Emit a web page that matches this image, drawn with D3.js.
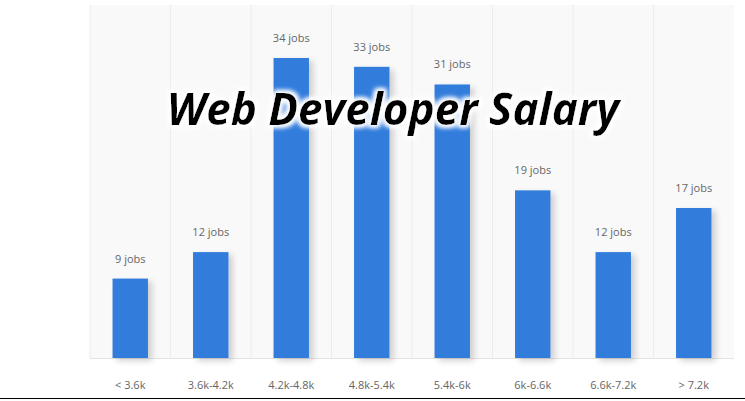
<!DOCTYPE html>
<html><head><meta charset="utf-8">
<script src="https://cdn.jsdelivr.net/npm/d3@7"></script>
<style>body{margin:0;background:#fff}svg{display:block}</style>
</head><body><div id="plot"></div>
<script>
// salary ranges and job counts
var categories = ['< 3.6k','3.6k-4.2k','4.2k-4.8k','4.8k-5.4k','5.4k-6k','6k-6.6k','6.6k-7.2k','> 7.2k'];
var jobs = [9,12,34,33,31,19,12,17];

var W = 745, H = 401;
var margin = {t:5,r:11,b:43,l:90};
var width = W-margin.l-margin.r, height = H-margin.t-margin.b;

var svg = d3.select('#plot').append('svg').attr('width',W).attr('height',H);
var defs = svg.append('defs');
var sh = defs.append('filter').attr('id','sh').attr('x','-20%').attr('y','-5%').attr('width','150%').attr('height','115%');
sh.append('feGaussianBlur').attr('in','SourceAlpha').attr('stdDeviation',3);
sh.append('feOffset').attr('dx',4).attr('dy',3).attr('result','b');
sh.append('feComponentTransfer').append('feFuncA').attr('type','linear').attr('slope',0.18);
var m = sh.append('feMerge'); m.append('feMergeNode'); m.append('feMergeNode').attr('in','SourceGraphic');

var glow = defs.append('filter').attr('id','glow').attr('x','-10%').attr('y','-30%').attr('width','120%').attr('height','160%');
glow.append('feMorphology').attr('in','SourceAlpha').attr('operator','dilate').attr('radius',2).attr('result','d');
glow.append('feGaussianBlur').attr('in','d').attr('stdDeviation',2.5).attr('result','g');
glow.append('feFlood').attr('flood-color','#fff');
glow.append('feComposite').attr('in2','g').attr('operator','in');
var gm = glow.append('feMerge'); gm.append('feMergeNode'); gm.append('feMergeNode'); gm.append('feMergeNode').attr('in','SourceGraphic');

var plot = svg.append('g').attr('transform','translate('+margin.l+','+margin.t+')');
var x = d3.scaleBand().domain(categories).range([0,width]).paddingInner(0.56).paddingOuter(0.28);
var xcol = d3.scaleBand().domain(categories).range([0,width]);
var y = d3.scaleLinear().domain([0,34]).range([height,height-300]);

plot.append('rect').attr('width',width).attr('height',height).attr('fill','#f9f9f9');
plot.selectAll('.grid').data(categories).enter().append('line')
  .attr('x1',function(d){return xcol(d);}).attr('x2',function(d){return xcol(d);})
  .attr('y1',0).attr('y2',height).attr('stroke','#ececec');
plot.append('line').attr('x1',0).attr('x2',width).attr('y1',height+0.5).attr('y2',height+0.5).attr('stroke','#e2e2e2');

plot.selectAll('.bar').data(jobs).enter().append('rect')
  .attr('x',function(d,i){return x(categories[i]);})
  .attr('width',x.bandwidth())
  .attr('y',function(d){return y(d);})
  .attr('height',function(d){return height-y(d);})
  .attr('fill','#337cdc').attr('filter','url(#sh)');

plot.selectAll('.val').data(jobs).enter().append('text')
  .attr('x',function(d,i){return x(categories[i])+x.bandwidth()/2;})
  .attr('y',function(d){return y(d)-16;})
  .attr('text-anchor','middle').attr('font-family','Open Sans, sans-serif').attr('font-size',11)
  .attr('fill','#666').text(function(d){return d+' jobs';});

plot.selectAll('.cat').data(categories).enter().append('text')
  .attr('x',function(d){return x(d)+x.bandwidth()/2;})
  .attr('y',height+31)
  .attr('text-anchor','middle').attr('font-family','Open Sans, sans-serif').attr('font-size',11)
  .attr('fill','#666').text(function(d){return d;});

svg.append('line').attr('x1',0).attr('x2',W).attr('y1',398.5).attr('y2',398.5).attr('stroke','#000');

svg.append('text').attr('x',393).attr('y',125).attr('text-anchor','middle')
  .attr('font-family','Open Sans, sans-serif').attr('font-weight','bold').attr('font-style','italic')
  .attr('font-size',44).attr('fill','#000').attr('filter','url(#glow)').text('Web Developer Salary');
</script></body></html>
